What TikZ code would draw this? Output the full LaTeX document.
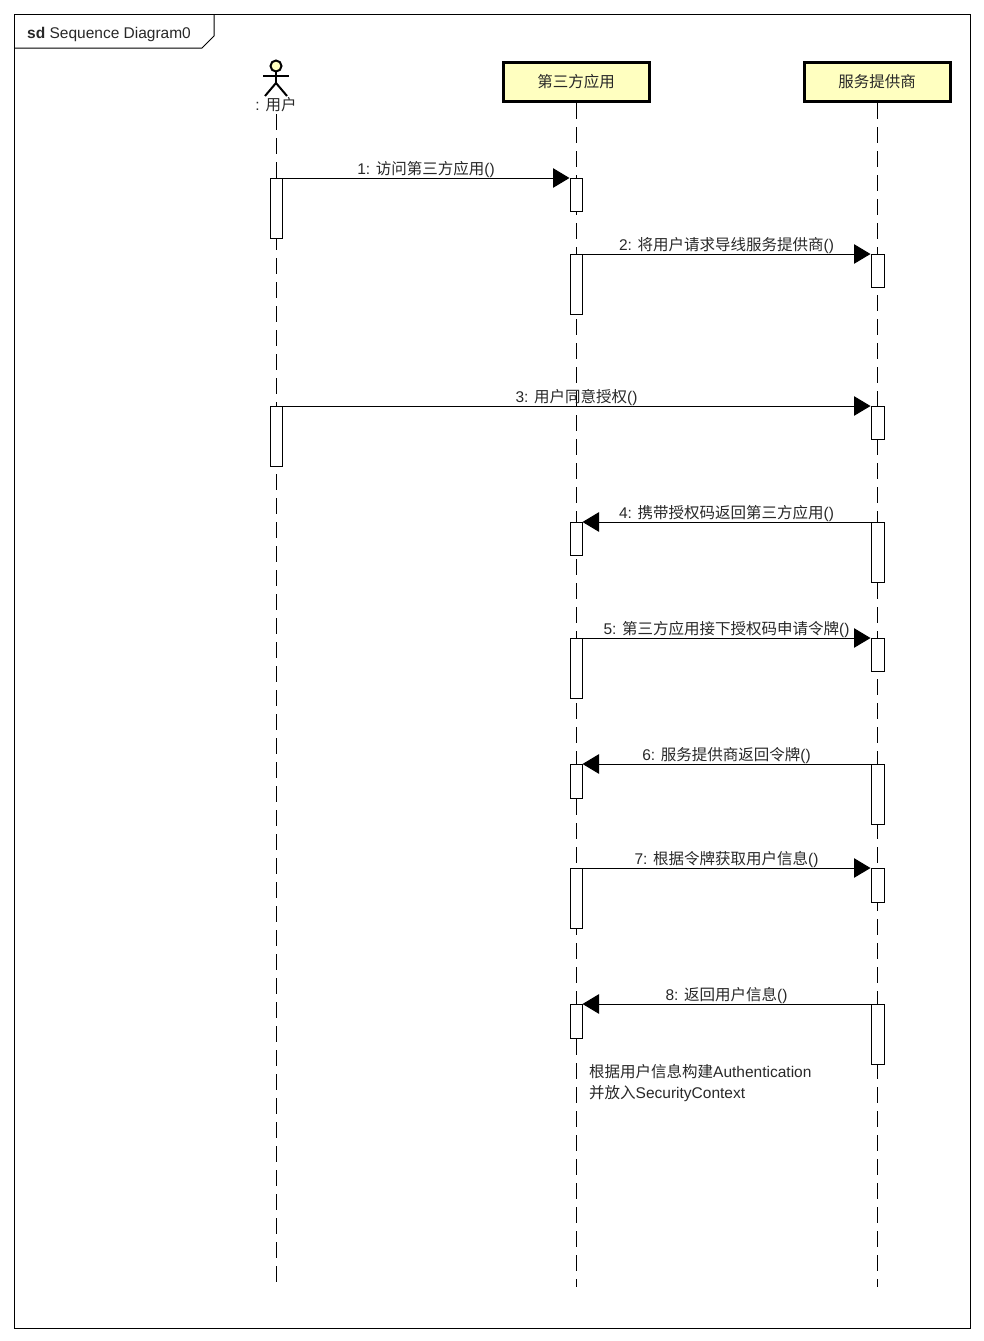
\documentclass[tikz,border=0pt]{standalone}
\usepackage{fontspec}
\setmainfont{Liberation Sans}
\newfontfamily\cjk{Noto Sans CJK SC}
\usetikzlibrary{arrows.meta}
\definecolor{boxfill}{RGB}{255,255,192}
\definecolor{txt}{RGB}{40,40,40}
\newcommand{\zh}[1]{{\cjk #1}}
\begin{document}
\begin{tikzpicture}[x=1pt,y=-1pt,
  every node/.style={font=\fontsize{15.5}{18}\selectfont, text=txt, inner sep=0pt},
  lifeline/.style={line width=1pt, dash pattern=on 16pt off 8pt},
  headbox/.style={draw, line width=3pt, fill=boxfill, minimum width=146pt, minimum height=39pt},
  actbox/.style={draw, line width=1pt, fill=white},
  msg/.style={line width=1pt, -{Triangle[length=16.5pt,width=19.5pt]}},
  msglabel/.style={anchor=south, yshift=0pt},
]
\useasboundingbox (0,0) rectangle (984,1341);
% frame
\draw[line width=1pt] (14,14) rectangle (970,1328);
\draw[line width=1pt] (14,48) -- (202,48) -- (214,36) -- (214,14);
\node[anchor=west] (title) at (27,34.5) {\textbf{sd} Sequence Diagram0};

% heads
\node[headbox] (tp) at (576,82) {\zh{第三方应用}};
\node[headbox] (sp) at (877,82) {\zh{服务提供商}};

% actor
\draw[line width=2pt] (276,72) -- (276,83);
\draw[line width=2pt] (263,76) -- (289,76);
\draw[line width=2pt] (265,96) -- (276,83) -- (287,96);
\node[draw, line width=2pt, circle, fill=boxfill, minimum size=11pt] (uhead) at (276,66) {};
\node (ulabel) at (276,105) {: \zh{用户}};

% lifelines
\coordinate (uend) at (276,1287);
\coordinate (tend) at (576,1287);
\coordinate (send) at (877,1287);
\draw[lifeline] (276,114) -- (uend);
\draw[lifeline] (tp.south) -- (tend);
\draw[lifeline] (sp.south) -- (send);

% activations
\foreach \n/\a/\b in {u1/178/238, u2/406/466}
  \node[actbox, minimum width=12pt, minimum height={\b-\a}, anchor=north] (\n) at (276,\a) {};
\foreach \n/\a/\b in {t1/178/211, t2/254/314, t4/522/555, t5/638/698, t6/764/798, t7/868/928, t8/1004/1038}
  \node[actbox, minimum width=12pt, minimum height={\b-\a}, anchor=north] (\n) at (576,\a) {};
\foreach \n/\a/\b in {s2/254/287, s3/406/439, s4/522/582, s5/638/671, s6/764/824, s7/868/902, s8/1004/1064}
  \node[actbox, minimum width=13pt, minimum height={\b-\a}, anchor=north] (\n) at (877.5,\a) {};

% messages
\draw[msg] (u1.north east) -- node[msglabel]{1: \zh{访问第三方应用}()} (t1.north west);
\draw[msg] (t2.north east) -- node[msglabel]{2: \zh{将用户请求导线服务提供商}()} (s2.north west);
\draw[msg] (u2.north east) -- node[msglabel]{3: \zh{用户同意授权}()} (s3.north west);
\draw[msg] (s4.north west) -- node[msglabel]{4: \zh{携带授权码返回第三方应用}()} (t4.north east);
\draw[msg] (t5.north east) -- node[msglabel]{5: \zh{第三方应用接下授权码申请令牌}()} (s5.north west);
\draw[msg] (s6.north west) -- node[msglabel]{6: \zh{服务提供商返回令牌}()} (t6.north east);
\draw[msg] (t7.north east) -- node[msglabel]{7: \zh{根据令牌获取用户信息}()} (s7.north west);
\draw[msg] (s8.north west) -- node[msglabel]{8: \zh{返回用户信息}()} (t8.north east);

% note
\node[anchor=west] (note1) at (589,1072) {\zh{根据用户信息构建}Authentication};
\node[anchor=west] (note2) at (589,1094) {\zh{并放入}SecurityContext};
\end{tikzpicture}
\end{document}
